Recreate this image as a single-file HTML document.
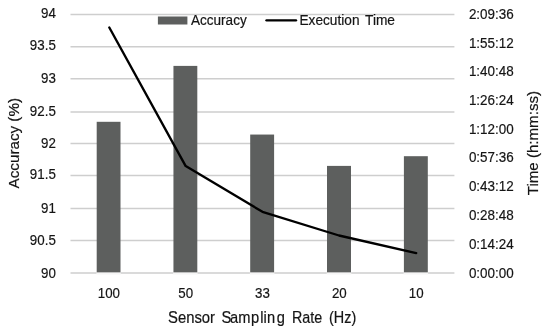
<!DOCTYPE html>
<html><head><meta charset="utf-8"><title>Chart</title>
<style>html,body{margin:0;padding:0;background:#fff}svg{display:block}text{font-family:"Liberation Sans",sans-serif;fill:#151515;stroke:#151515;stroke-width:0.2px}</style></head><body>
<svg width="550" height="335" viewBox="0 0 550 335">
<rect width="550" height="335" fill="#fff"/>
<line x1="70.5" x2="454.4" y1="14.45" y2="14.45" stroke="#cecece" stroke-width="1.5"/>
<line x1="70.5" x2="454.4" y1="46.70" y2="46.70" stroke="#cecece" stroke-width="1.5"/>
<line x1="70.5" x2="454.4" y1="78.70" y2="78.70" stroke="#cecece" stroke-width="1.5"/>
<line x1="70.5" x2="454.4" y1="111.90" y2="111.90" stroke="#cecece" stroke-width="1.5"/>
<line x1="70.5" x2="454.4" y1="143.45" y2="143.45" stroke="#cecece" stroke-width="1.5"/>
<line x1="70.5" x2="454.4" y1="175.50" y2="175.50" stroke="#cecece" stroke-width="1.5"/>
<line x1="70.5" x2="454.4" y1="208.60" y2="208.60" stroke="#cecece" stroke-width="1.5"/>
<line x1="70.5" x2="454.4" y1="240.40" y2="240.40" stroke="#cecece" stroke-width="1.5"/>
<line x1="70.5" x2="454.4" y1="273.10" y2="273.10" stroke="#cecece" stroke-width="1.5"/>
<rect x="96.40" y="272.3" width="24.40" height="2.2" fill="#f6f6f6"/>
<rect x="96.70" y="121.80" width="23.80" height="150.50" fill="#5d5f5e"/>
<rect x="173.15" y="272.3" width="24.45" height="2.2" fill="#f6f6f6"/>
<rect x="173.45" y="65.90" width="23.85" height="206.40" fill="#5d5f5e"/>
<rect x="249.90" y="272.3" width="24.50" height="2.2" fill="#f6f6f6"/>
<rect x="250.20" y="134.55" width="23.90" height="137.75" fill="#5d5f5e"/>
<rect x="326.70" y="272.3" width="24.60" height="2.2" fill="#f6f6f6"/>
<rect x="327.00" y="165.90" width="24.00" height="106.40" fill="#5d5f5e"/>
<rect x="403.60" y="272.3" width="24.50" height="2.2" fill="#f6f6f6"/>
<rect x="403.90" y="156.20" width="23.90" height="116.10" fill="#5d5f5e"/>
<polyline fill="none" stroke="#000" stroke-width="2.35" stroke-linejoin="round" stroke-linecap="round" points="109.3,27.5 185.7,166.1 262.45,211.8 339.0,235.5 416.2,253.1"/>
<text x="55.8" y="277.7" font-size="15" textLength="14.82" lengthAdjust="spacingAndGlyphs" text-anchor="end">90</text>
<text x="55.8" y="244.94" font-size="15" textLength="25.94" lengthAdjust="spacingAndGlyphs" text-anchor="end">90.5</text>
<text x="55.8" y="212.98" font-size="15" textLength="14.82" lengthAdjust="spacingAndGlyphs" text-anchor="end">91</text>
<text x="55.8" y="179.42" font-size="15" textLength="25.94" lengthAdjust="spacingAndGlyphs" text-anchor="end">91.5</text>
<text x="55.8" y="147.96" font-size="15" textLength="14.82" lengthAdjust="spacingAndGlyphs" text-anchor="end">92</text>
<text x="55.8" y="115.6" font-size="15" textLength="25.94" lengthAdjust="spacingAndGlyphs" text-anchor="end">92.5</text>
<text x="55.8" y="82.99" font-size="15" textLength="14.82" lengthAdjust="spacingAndGlyphs" text-anchor="end">93</text>
<text x="55.8" y="50.38" font-size="15" textLength="25.94" lengthAdjust="spacingAndGlyphs" text-anchor="end">93.5</text>
<text x="55.8" y="18.22" font-size="15" textLength="14.82" lengthAdjust="spacingAndGlyphs" text-anchor="end">94</text>
<text x="468.9" y="278.3" font-size="15" textLength="44.8" lengthAdjust="spacingAndGlyphs">0:00:00</text>
<text x="468.9" y="249.13" font-size="15" textLength="44.8" lengthAdjust="spacingAndGlyphs">0:14:24</text>
<text x="468.9" y="219.56" font-size="15" textLength="44.8" lengthAdjust="spacingAndGlyphs">0:28:48</text>
<text x="468.9" y="190.94" font-size="15" textLength="44.8" lengthAdjust="spacingAndGlyphs">0:43:12</text>
<text x="468.9" y="162.12" font-size="15" textLength="44.8" lengthAdjust="spacingAndGlyphs">0:57:36</text>
<text x="468.9" y="133.5" font-size="15" textLength="44.8" lengthAdjust="spacingAndGlyphs">1:12:00</text>
<text x="468.9" y="104.68" font-size="15" textLength="44.8" lengthAdjust="spacingAndGlyphs">1:26:24</text>
<text x="468.9" y="76.41" font-size="15" textLength="44.8" lengthAdjust="spacingAndGlyphs">1:40:48</text>
<text x="468.9" y="47.64" font-size="15" textLength="44.8" lengthAdjust="spacingAndGlyphs">1:55:12</text>
<text x="468.9" y="18.67" font-size="15" textLength="44.8" lengthAdjust="spacingAndGlyphs">2:09:36</text>
<text x="108.9" y="298.1" font-size="15" textLength="22.23" lengthAdjust="spacingAndGlyphs" text-anchor="middle">100</text>
<text x="185.68" y="298.1" font-size="15" textLength="14.82" lengthAdjust="spacingAndGlyphs" text-anchor="middle">50</text>
<text x="262.45" y="298.1" font-size="15" textLength="14.82" lengthAdjust="spacingAndGlyphs" text-anchor="middle">33</text>
<text x="339.3" y="298.1" font-size="15" textLength="14.82" lengthAdjust="spacingAndGlyphs" text-anchor="middle">20</text>
<text x="416.15" y="298.1" font-size="15" textLength="14.82" lengthAdjust="spacingAndGlyphs" text-anchor="middle">10</text>
<text x="168.0" y="322.7" font-size="16.3" textLength="47.0" lengthAdjust="spacingAndGlyphs">Sensor</text>
<text transform="scale(0.9,1)" x="246.15 255.42 264.7 278.95 289.12 292.69 296.7 307.54" y="322.7" font-size="16.3">Sampling</text>
<text x="292.0" y="322.7" font-size="16.3" textLength="30.2" lengthAdjust="spacingAndGlyphs">Rate</text>
<text x="329.0" y="322.7" font-size="16.3" textLength="27.2" lengthAdjust="spacingAndGlyphs">(Hz)</text>
<text transform="translate(18.6,188.4) rotate(-90)" font-size="15.1" textLength="90.4" lengthAdjust="spacingAndGlyphs">Accuracy (%)</text>
<text transform="translate(537.5,195.2) rotate(-90)" font-size="15.2" textLength="104.2" lengthAdjust="spacingAndGlyphs">Time (h:mm:ss)</text>
<rect x="157.9" y="16.5" width="29.5" height="8" fill="#5d5f5e"/>
<text x="191" y="24.9" font-size="14.67" textLength="55.7" lengthAdjust="spacingAndGlyphs">Accuracy</text>
<line x1="266.5" x2="296" y1="20.3" y2="20.3" stroke="#000" stroke-width="2.35" stroke-linecap="round"/>
<text x="299.5" y="24.9" font-size="14.67" textLength="60.0" lengthAdjust="spacingAndGlyphs">Execution</text>
<text x="365.0" y="24.9" font-size="14.67" textLength="30.0" lengthAdjust="spacingAndGlyphs">Time</text>
</svg></body></html>
